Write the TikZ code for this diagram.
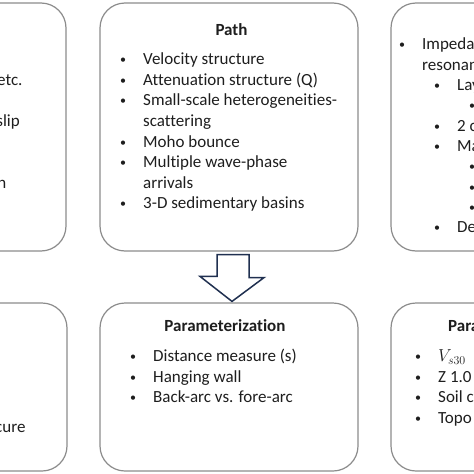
\documentclass[tikz,border=0pt]{standalone}
\usepackage{fontspec}
\setmainfont{Carlito}[Ligatures=NoCommon]
\usepackage{tikz}
\usetikzlibrary{positioning,calc}
\definecolor{boxgray}{RGB}{140,140,140}
\definecolor{navy}{RGB}{32,48,80}
\definecolor{ink}{RGB}{30,30,30}
\newcommand{\bul}{\strut\makebox[24pt][l]{\hspace*{1pt}\raisebox{1pt}{\fontsize{12}{12}\selectfont\textbullet}}}
\newcommand{\ind}{\strut\hspace*{24pt}}

\begin{document}
\begin{tikzpicture}[
x=1pt, y=-1pt,
box/.style={rectangle, draw=boxgray, line width=1.2pt, rounded corners=25pt, fill=white, inner sep=0pt, minimum width=258pt},
title/.style={anchor=base, text=ink, inner sep=0pt, font=\fontsize{17}{20.6}\selectfont\bfseries},
list/.style={anchor=north west, align=left, text=ink, inner sep=0pt, font=\fontsize{17}{20.6}\selectfont},
frag/.style={anchor=base east, text=ink, inner sep=0pt, font=\fontsize{17}{20.6}\selectfont},
blockarrow/.style={draw=navy, line width=1.5pt, fill=white, line join=miter},
]
\useasboundingbox (0,0) rectangle (474,474);
\fill[white] (0,0) rectangle (474,474);
\clip (0,0) rectangle (474,474);

\node[box, minimum height=248pt] (source) at (-63,127) {};
\node[box, minimum height=248pt] (path) at (229,127) {};
\node[box, minimum height=248pt] (site) at (520,127) {};

\node[box, minimum height=168pt] (sourcepar) at (-62,387) {};
\node[box, minimum height=168pt] (param) at (229,387) {};
\node[box, minimum height=168pt] (sitepar) at (520,387) {};

\node[frag] (srcA) at (22.7,85.5) {etc.};
\node[frag] (srcB) at (20,126.5) {slip};
\node[frag] (srcC) at (6.5,188) {n};
\node[frag] (srcD) at (25.7,432) {cure};

\node[title] (pathtitle) at (231.5,35) {Path};
\node[list] (pathlist) at (119,50.1) {%
\bul Velocity structure\\
\bul Attenuation structure (Q)\\
\bul Small-scale heterogeneities-\\
\ind scattering\\
\bul Moho bounce\\
\bul Multiple wave-phase\\
\ind arrivals\\
\bul 3-D sedimentary basins};

\node[list, font=\fontsize{17}{20.35}\selectfont] (sitelist) at (398,35.3) {%
\bul Impeda\\
\ind resonan\\
\hspace*{35pt}\bul Lay\\
\hspace*{70pt}\bul\\
\hspace*{35pt}\bul 2 c\\
\hspace*{35pt}\bul Ma\\
\hspace*{70pt}\bul\\
\hspace*{70pt}\bul\\
\hspace*{70pt}\bul\\
\hspace*{35pt}\bul De};

\node[title] (paramtitle) at (225,331) {Parameterization};
\node[list] (paramlist) at (129,347.1) {%
\bul Distance measure (s)\\
\bul Hanging wall\\
\bul Back-arc vs. fore-arc};

\node[title, anchor=base west] (sitepartitle) at (448,331) {Para};
\node[list] (siteparlist) at (414,347.1) {%
\bul $V_{s30}$\\
\bul Z 1.0\\
\bul Soil c\\
\bul Topo};

\draw[blockarrow] ($(path.south)+(-12,3)$) -- ++(32,0) -- ++(0,23) -- ++(15,0)
  -- ($(param.north)+(3,-1)$) -- ++(-32,-25) -- ++(17,0) -- cycle;
\end{tikzpicture}
\end{document}
